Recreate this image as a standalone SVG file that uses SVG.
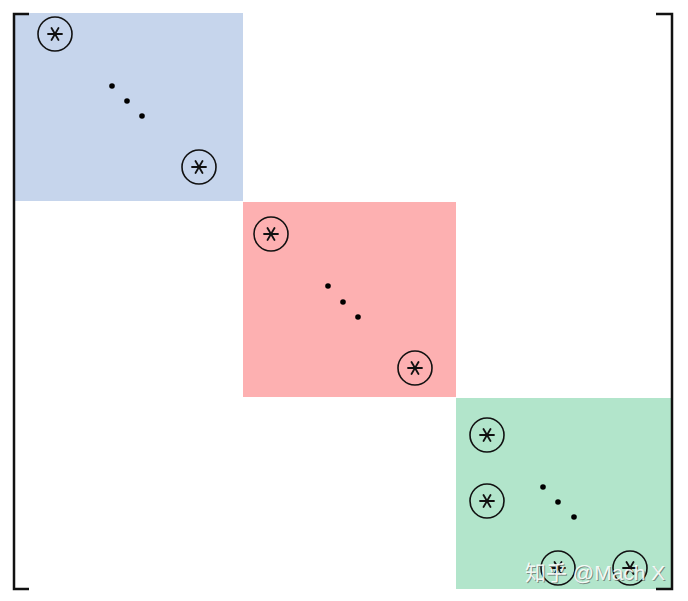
<svg xmlns="http://www.w3.org/2000/svg" width="688" height="601" viewBox="0 0 688 601">
<defs>
<style>
.bracket{fill:none;stroke:#111;stroke-width:2.5}
.star{stroke:#111;stroke-width:1.8;stroke-linecap:round}
.dot{fill:#000}
.wm{font-family:"Liberation Sans","Noto Sans CJK SC",sans-serif;font-size:21px}
.wm-shadow{fill:#555;fill-opacity:0.6}
.wm-main{fill:#fff;fill-opacity:0.9}
</style>
<g id="sym">
<circle cx="0" cy="0" r="17" fill="none" stroke="#111" stroke-width="1.6"/>
<line class="star" x1="-7" y1="0" x2="7" y2="0"/>
<line class="star" x1="-3.5" y1="-6" x2="3.5" y2="6"/>
<line class="star" x1="3.5" y1="-6" x2="-3.5" y2="6"/>
</g>
</defs>
<rect width="688" height="601" fill="#fff"/>
<g id="block-blue">
<rect x="14" y="13" width="229" height="188" fill="#c6d5ec"/>
<use href="#sym" x="55" y="34"/>
<use href="#sym" x="199" y="167"/>
<circle class="dot" cx="112" cy="86" r="2.8"/>
<circle class="dot" cx="127" cy="101" r="2.8"/>
<circle class="dot" cx="142" cy="116" r="2.8"/>
</g>
<g id="block-red">
<rect x="243" y="202" width="213" height="195" fill="#fdb0b1"/>
<use href="#sym" x="271" y="234"/>
<use href="#sym" x="415" y="368"/>
<circle class="dot" cx="328" cy="286" r="2.8"/>
<circle class="dot" cx="343" cy="302" r="2.8"/>
<circle class="dot" cx="358" cy="317" r="2.8"/>
</g>
<g id="block-green">
<rect x="456" y="398" width="216" height="191" fill="#b2e5cb"/>
<use href="#sym" x="487" y="435"/>
<use href="#sym" x="487" y="501"/>
<use href="#sym" x="558" y="568"/>
<use href="#sym" x="630" y="568"/>
<circle class="dot" cx="543" cy="487" r="2.8"/>
<circle class="dot" cx="558" cy="502" r="2.8"/>
<circle class="dot" cx="574" cy="517" r="2.8"/>
</g>
<g id="brackets">
<path class="bracket" d="M29,14 H14 V589 H29"/>
<path class="bracket" d="M656,14 H672 V589 H656"/>
</g>
<text class="wm wm-shadow" x="526" y="581">知乎 @Mach X</text>
<text class="wm wm-main" x="525" y="580">知乎 @Mach X</text>
</svg>
